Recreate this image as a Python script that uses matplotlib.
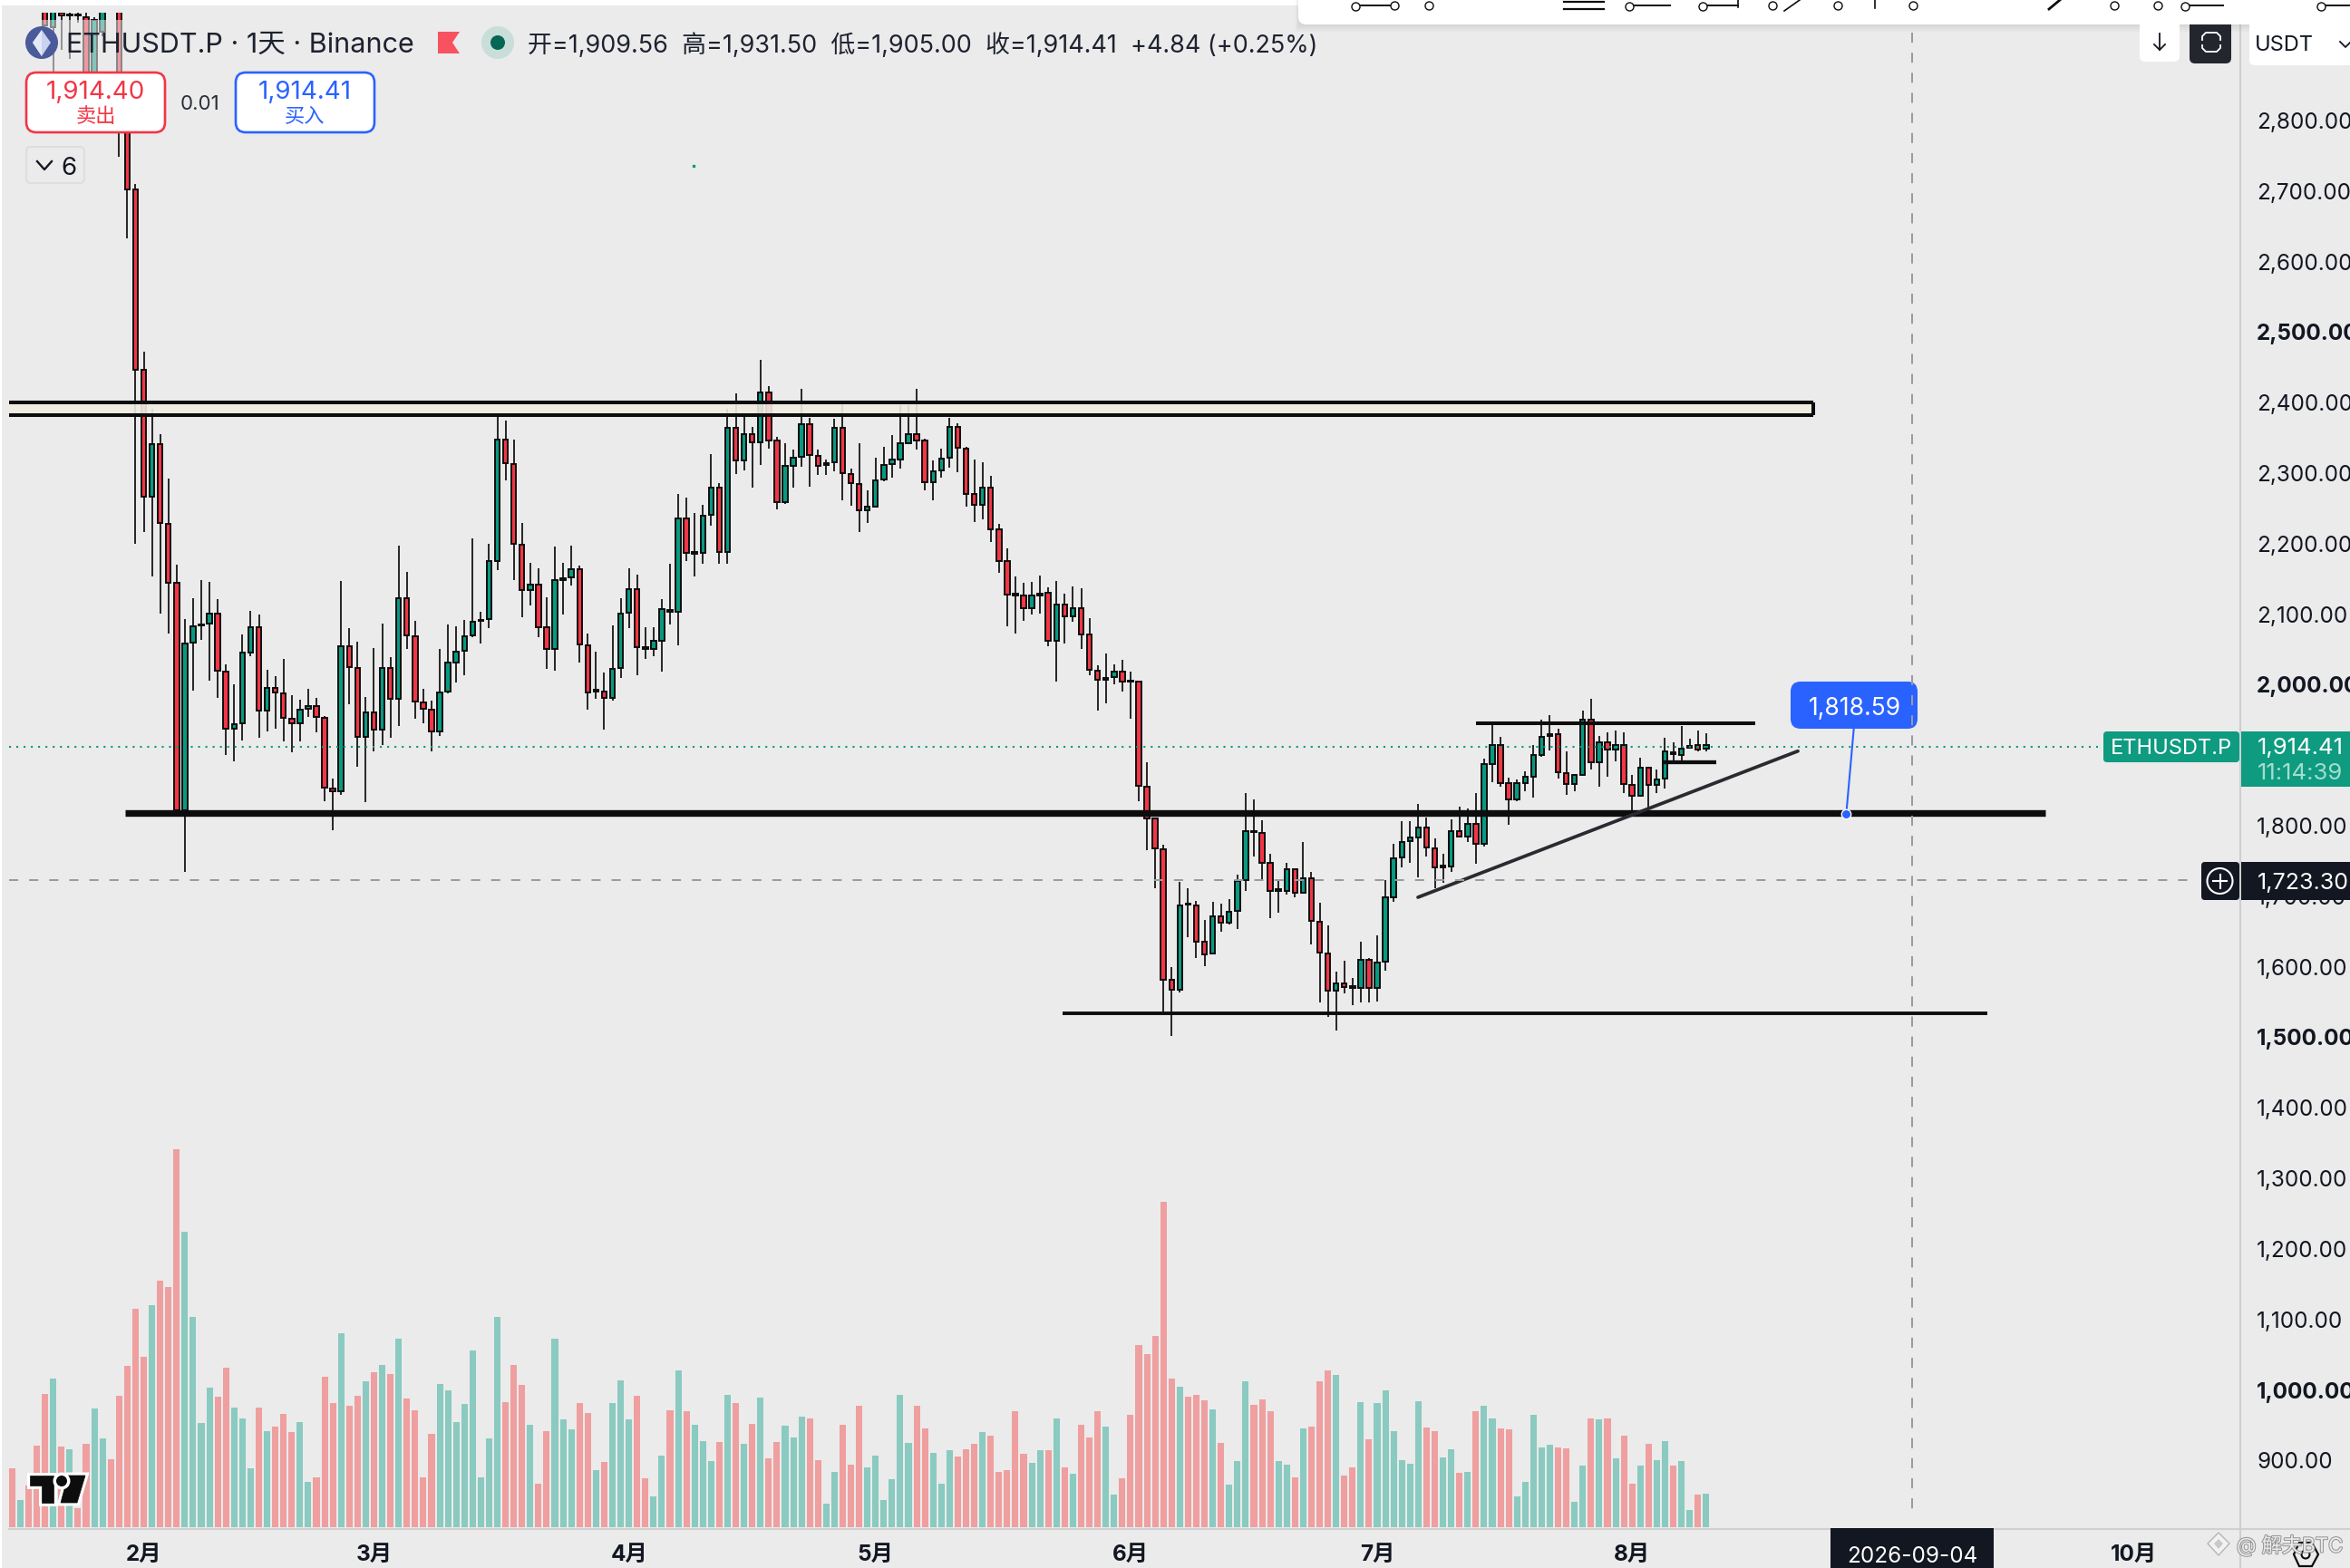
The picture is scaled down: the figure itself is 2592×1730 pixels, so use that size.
import matplotlib as mpl
import matplotlib.pyplot as plt
import matplotlib.patheffects as pe
from matplotlib.patches import Rectangle, FancyBboxPatch, Circle, Polygon

plt.rcParams['font.family'] = ['Inter', 'Noto Sans CJK SC', 'DejaVu Sans']

W, H = 2592, 1730
BG = '#ebebeb'
UP = '#089981'
DOWN = '#f23645'
INK = '#0d0d0d'
NAVY = '#131722'

# daily candles, one row of ten per line
opens = [3030, 2985, 3040, 3010, 2965, 2933, 2953, 2949, 2951, 2947,
         2840, 2926, 2972, 2965, 2783, 2702, 2447, 2267, 2341, 2228,
         2144, 1822, 2060, 2084, 2087, 2101, 2019, 1938, 1945, 2045,
         2082, 1963, 1995, 1988, 1952, 1946, 1966, 1970, 1953, 1853,
         1849, 2054, 2024, 1926, 1961, 1937, 2024, 1980, 2123, 2069,
         1975, 1965, 1934, 1991, 2032, 2048, 2070, 2090, 2093, 2175,
         2348, 2313, 2199, 2134, 2142, 2081, 2051, 2149, 2152, 2164,
         2056, 1991, 1991, 1981, 2024, 2102, 2136, 2053, 2051, 2062,
         2106, 2104, 2236, 2186, 2187, 2241, 2280, 2188, 2365, 2318,
         2356, 2344, 2414, 2346, 2259, 2310, 2323, 2370, 2325, 2312,
         2315, 2365, 2299, 2285, 2248, 2253, 2291, 2313, 2319, 2343,
         2356, 2346, 2287, 2304, 2322, 2366, 2335, 2270, 2255, 2279,
         2221, 2176, 2129, 2126, 2108, 2127, 2130, 2062, 2114, 2097,
         2109, 2071, 2020, 2007, 2011, 2019, 2006, 2004, 1856, 1810,
         1767, 1581, 1567, 1690, 1687, 1636, 1619, 1671, 1663, 1679,
         1723, 1793, 1790, 1747, 1708, 1708, 1738, 1705, 1725, 1664,
         1619, 1566, 1576, 1572, 1570, 1610, 1570, 1607, 1698, 1755,
         1778, 1783, 1797, 1768, 1741, 1742, 1793, 1785, 1803, 1774,
         1888, 1914, 1861, 1838, 1860, 1869, 1901, 1928, 1930, 1875,
         1859, 1872, 1951, 1890, 1919, 1908, 1915, 1858, 1842, 1882,
         1858, 1867, 1904, 1901, 1911, 1914, 1909.56]
highs = [3055, 3040, 3060, 3030, 2975, 2970, 2960, 2956, 2955, 2953,
         2947, 2965, 2980, 2975, 2790, 2710, 2472, 2392, 2355, 2292,
         2170, 2093, 2123, 2149, 2146, 2121, 2029, 2000, 2071, 2105,
         2100, 2021, 2012, 2036, 1985, 1979, 1994, 1981, 1956, 1867,
         2147, 2080, 2061, 1983, 2052, 2087, 2039, 2197, 2160, 2091,
         1994, 1977, 2051, 2086, 2083, 2092, 2208, 2103, 2200, 2381,
         2375, 2348, 2230, 2173, 2165, 2124, 2196, 2173, 2197, 2169,
         2073, 2047, 2017, 2084, 2123, 2165, 2156, 2081, 2081, 2121,
         2171, 2270, 2266, 2243, 2255, 2327, 2286, 2392, 2413, 2380,
         2366, 2461, 2424, 2351, 2343, 2334, 2420, 2379, 2334, 2320,
         2377, 2398, 2307, 2343, 2276, 2322, 2338, 2354, 2397, 2397,
         2420, 2349, 2318, 2335, 2379, 2371, 2337, 2319, 2315, 2296,
         2228, 2194, 2153, 2145, 2146, 2155, 2138, 2147, 2129, 2140,
         2137, 2094, 2027, 2044, 2029, 2035, 2019, 2005, 1890, 1812,
         1773, 1599, 1720, 1712, 1694, 1666, 1692, 1690, 1696, 1731,
         1846, 1837, 1808, 1760, 1722, 1747, 1739, 1777, 1735, 1691,
         1659, 1593, 1609, 1584, 1635, 1612, 1645, 1723, 1774, 1807,
         1807, 1831, 1812, 1782, 1760, 1809, 1827, 1825, 1846, 1895,
         1943, 1926, 1868, 1866, 1877, 1915, 1951, 1957, 1938, 1906,
         1874, 1964, 1980, 1927, 1932, 1935, 1933, 1872, 1896, 1884,
         1880, 1925, 1918, 1941, 1924, 1935, 1931.5]
lows = [2990, 2975, 2995, 2970, 2935, 2869, 2900, 2887, 2939, 2783,
        2830, 2920, 2958, 2749, 2633, 2200, 2216, 2154, 2101, 2072,
        1813, 1735, 1992, 2063, 2006, 1982, 1900, 1891, 1921, 2040,
        1925, 1934, 1938, 1920, 1904, 1920, 1954, 1932, 1835, 1794,
        1844, 1972, 1884, 1833, 1905, 1914, 1925, 1942, 2051, 1952,
        1945, 1905, 1927, 1988, 2003, 2013, 2068, 2059, 2080, 2162,
        2290, 2149, 2096, 2113, 2067, 2023, 2020, 2100, 2141, 2032,
        1965, 1980, 1936, 1977, 2010, 2080, 2014, 2037, 2041, 2019,
        2085, 2056, 2176, 2154, 2172, 2225, 2171, 2172, 2299, 2304,
        2280, 2312, 2335, 2249, 2256, 2279, 2309, 2281, 2297, 2297,
        2303, 2262, 2254, 2217, 2229, 2253, 2289, 2294, 2306, 2341,
        2333, 2276, 2261, 2294, 2308, 2301, 2253, 2231, 2235, 2202,
        2159, 2083, 2073, 2091, 2100, 2101, 2054, 2005, 2059, 2089,
        2051, 2013, 1964, 1974, 2000, 1991, 1952, 1835, 1766, 1712,
        1536, 1502, 1563, 1642, 1612, 1601, 1619, 1650, 1660, 1653,
        1707, 1756, 1723, 1669, 1677, 1702, 1699, 1705, 1632, 1550,
        1529, 1510, 1562, 1546, 1549, 1549, 1551, 1595, 1692, 1741,
        1747, 1727, 1756, 1712, 1719, 1735, 1785, 1777, 1746, 1771,
        1862, 1855, 1801, 1835, 1849, 1840, 1898, 1907, 1867, 1844,
        1849, 1872, 1880, 1855, 1869, 1892, 1846, 1818, 1842, 1818,
        1846, 1853, 1891, 1891, 1909, 1905, 1905]
closes = [3000, 3025, 3005, 2975, 2935, 2960, 2949, 2951, 2949, 2787,
          2943, 2958, 2965, 2783, 2702, 2447, 2267, 2341, 2229, 2144,
          1822, 2059, 2083, 2086, 2101, 2020, 1938, 1944, 2045, 2082,
          1964, 1995, 1989, 1953, 1946, 1965, 1970, 1954, 1854, 1849,
          2054, 2025, 1926, 1961, 1936, 2024, 1980, 2123, 2070, 1976,
          1966, 1934, 1989, 2032, 2047, 2069, 2089, 2092, 2175, 2348,
          2314, 2200, 2134, 2142, 2082, 2051, 2148, 2151, 2164, 2057,
          1989, 1993, 1981, 2023, 2101, 2136, 2053, 2051, 2062, 2107,
          2104, 2236, 2187, 2188, 2240, 2280, 2188, 2365, 2318, 2356,
          2344, 2414, 2346, 2259, 2310, 2322, 2370, 2326, 2311, 2314,
          2365, 2300, 2286, 2248, 2253, 2290, 2312, 2319, 2343, 2356,
          2346, 2287, 2303, 2321, 2366, 2336, 2270, 2255, 2279, 2221,
          2176, 2128, 2127, 2108, 2126, 2129, 2062, 2114, 2097, 2109,
          2071, 2021, 2007, 2009, 2019, 2004, 2004, 1857, 1810, 1768,
          1582, 1567, 1687, 1688, 1636, 1618, 1671, 1663, 1678, 1722,
          1793, 1791, 1747, 1708, 1710, 1738, 1705, 1725, 1665, 1620,
          1566, 1576, 1571, 1570, 1610, 1570, 1606, 1698, 1754, 1777,
          1783, 1797, 1769, 1741, 1743, 1793, 1785, 1803, 1774, 1888,
          1914, 1861, 1838, 1860, 1869, 1901, 1926, 1930, 1876, 1859,
          1872, 1951, 1890, 1919, 1908, 1915, 1859, 1842, 1882, 1858,
          1866, 1905, 1902, 1909, 1913, 1908, 1914.41]
# doji rows where the volume bar colour says which way they closed
volumes = [195, 90, 137, 270, 441, 492, 267, 258, 63, 276,
           393, 294, 225, 435, 534, 723, 564, 735, 816, 795,
           1251, 978, 696, 345, 462, 432, 528, 396, 360, 195,
           396, 318, 333, 375, 315, 348, 150, 165, 498, 411,
           642, 402, 435, 483, 513, 537, 507, 624, 426, 387,
           165, 309, 474, 453, 348, 408, 585, 165, 294, 696,
           414, 537, 471, 339, 144, 318, 624, 357, 324, 411,
           378, 189, 216, 411, 486, 357, 435, 162, 102, 237,
           387, 519, 384, 339, 285, 219, 282, 438, 411, 276,
           342, 429, 228, 282, 336, 297, 366, 360, 222, 78,
           183, 339, 207, 402, 198, 237, 90, 159, 438, 279,
           402, 327, 246, 144, 255, 234, 258, 276, 315, 303,
           183, 189, 384, 243, 213, 255, 255, 360, 198, 177,
           339, 297, 384, 333, 108, 162, 372, 603, 573, 633,
           1077, 492, 465, 432, 438, 420, 390, 279, 141, 219,
           483, 405, 423, 384, 219, 207, 165, 327, 333, 483,
           519, 504, 171, 198, 414, 291, 411, 453, 318, 222,
           210, 417, 330, 318, 231, 258, 180, 183, 384, 402,
           360, 327, 324, 102, 150, 372, 264, 273, 264, 261,
           84, 204, 360, 357, 360, 228, 303, 144, 204, 276,
           222, 285, 204, 219, 57, 108, 111]

month_pos = [16, 44, 75, 105, 136, 166, 197, 258]
month_labels = ['2月', '3月', '4月', '5月', '6月', '7月', '8月', '10月']
price_ticks = [2800, 2700, 2600, 2500, 2400, 2300, 2200, 2100, 2000, 1900,
               1800, 1700, 1600, 1500, 1400, 1300, 1200, 1100, 1000, 900]
bold_ticks = [2500, 2000, 1500, 1000]

LAST_PRICE = 1914.41
CROSS_PRICE = 1723.30
SUPPORT = 1818.59
LOW_LINE = 1534
TOP_LINE = 1945
SMALL_LINE = 1890
ZONE = (2382, 2400.5)

# pixel frame of the chart pane
LEFT, RIGHT, TOP, BOTTOM = 0, 2471, 14, 1687
BAR0_PX, BAR_PX = 13.4, 9.07
PRICE_PX = 0.778


def bar_of(px):
    return (px - BAR0_PX) / BAR_PX


fig = plt.figure(figsize=(W / 100, H / 100), dpi=100, facecolor=BG)
rect = [LEFT / W, (H - BOTTOM) / H, (RIGHT - LEFT) / W, (BOTTOM - TOP) / H]

# volume pane sits behind the candles
vol_ax = fig.add_axes(rect, zorder=1)
vol_ax.set_facecolor(BG)
vol_ax.set_xlim(bar_of(LEFT), bar_of(RIGHT))
vol_ax.set_ylim(-6, (1685 - TOP) * 3)
vol_ax.axis('off')

ax = fig.add_axes(rect, zorder=2)
ax.patch.set_alpha(0)
ax.set_xlim(bar_of(LEFT), bar_of(RIGHT))
ax.set_ylim(2000 - (BOTTOM - 755.5) / PRICE_PX, 2000 + (755.5 - TOP) / PRICE_PX)
for s in ax.spines.values():
    s.set_visible(False)

idx = list(range(len(opens)))
rising = [c >= o for o, c in zip(opens, closes)]
vol_ax.bar(idx, volumes, width=0.78,
           color=['#8acac0' if r else '#ef9f9f' for r in rising])

ax.vlines(idx, lows, highs, color=INK, lw=1.25, zorder=2)
ax.bar(idx, [abs(c - o) for o, c in zip(opens, closes)],
       bottom=[min(o, c) for o, c in zip(opens, closes)], width=0.6,
       color=[UP if r else DOWN for r in rising],
       edgecolor=INK, linewidth=1.4, zorder=3)

# drawings on top of the candles
z_l, z_r = bar_of(10), bar_of(2000)
ax.add_patch(Rectangle((z_l, ZONE[0]), z_r - z_l, ZONE[1] - ZONE[0],
                       facecolor='#f0ede2', alpha=0.9, edgecolor='none', zorder=4))
ax.hlines(list(ZONE), z_l, z_r, color=INK, lw=2.9, zorder=5)
ax.vlines(z_r, ZONE[0], ZONE[1], color=INK, lw=2.9, zorder=5)
ax.hlines(SUPPORT, bar_of(138), bar_of(2256), color=INK, lw=5.3, zorder=5)
ax.hlines(LOW_LINE, bar_of(1172), bar_of(2192), color=INK, lw=2.8, zorder=5)
ax.hlines(TOP_LINE, bar_of(1628), bar_of(1936), color=INK, lw=2.9, zorder=5)
ax.hlines(SMALL_LINE, bar_of(1834), bar_of(1893), color=INK, lw=3.1, zorder=5)
ax.plot([bar_of(1564), bar_of(1983)], [1698.6, 1905.9], color='#2a2a30', lw=2.7,
        solid_capstyle='round', zorder=5)

ax.hlines(LAST_PRICE - 2, bar_of(10), bar_of(2317), color=UP, lw=1.5,
          linestyle=(0, (1, 2.85)), zorder=4)
ax.hlines(CROSS_PRICE, bar_of(10), bar_of(2421), color='#9a9aa2', lw=1.45,
          linestyle=(0, (5, 6)), zorder=6)

ax.set_xticks(month_pos)
ax.set_xticklabels(month_labels, fontsize=17.5, fontweight='bold', color='#131722')
ax.yaxis.tick_right()
ax.set_yticks(price_ticks)
ax.set_yticklabels([f'{p:,.2f}' for p in price_ticks], fontsize=17.5, color='#131722')
for lab, p in zip(ax.get_yticklabels(), price_ticks):
    if p in bold_ticks:
        lab.set_fontweight('bold')
ax.tick_params(axis='both', length=0)
ax.tick_params(axis='x', pad=12.5)
ax.tick_params(axis='y', pad=13)

# page furniture in pixel coordinates
ov = fig.add_axes([0, 0, 1, 1], zorder=10)
ov.set_xlim(0, W)
ov.set_ylim(H, 0)
ov.axis('off')
ov.patch.set_alpha(0)


def box(x0, y0, x1, y1, fc, ec='none', lw=0, r=0, z=3):
    if r:
        ov.add_patch(FancyBboxPatch((x0 + r, y0 + r), x1 - x0 - 2 * r, y1 - y0 - 2 * r,
                                    boxstyle=f'round,pad={r},rounding_size={r}',
                                    fc=fc, ec=ec, lw=lw, zorder=z))
    else:
        ov.add_patch(Rectangle((x0, y0), x1 - x0, y1 - y0, fc=fc, ec=ec, lw=lw, zorder=z))


def label(x, y, s, size, color='#1e2230', ha='left', weight='normal', z=6, **kw):
    return ov.text(x, y, s, fontsize=size, color=color, ha=ha, va='center_baseline',
                   fontweight=weight, zorder=z, **kw)


# edges and axis rules
box(0, 0, W, 6, 'white', z=1)
box(0, 0, 2, H, 'white', z=1)
ov.plot([10, W], [1687, 1687], color='#d0d0d0', lw=1.5, zorder=2)
ov.plot([RIGHT, RIGHT], [27, H], color='#cfcfcf', lw=1.5, zorder=2)

# translucent legend strip over the first candles
box(29, 22, 460, 79, BG, z=2)
ov.patches[-1].set_alpha(0.55)

# title row
ov.add_patch(Circle((46, 47), 18, fc='#4a5a9a', zorder=4))
ov.add_patch(Polygon([(46, 33), (56, 47), (46, 62), (36, 47)], fc='#c9d3ee', zorder=5))
ov.add_patch(Polygon([(46, 33), (46, 62), (36, 47)], fc='#e4e9f7', zorder=5))
label(73, 47, 'ETHUSDT.P · 1天 · Binance', 22)
ov.add_patch(Polygon([(483, 35), (507, 35), (499, 47), (507, 59), (483, 59)], fc='#f7525f', zorder=5))
ov.add_patch(Circle((549, 47), 18, fc='#c9ddd9', zorder=4))
ov.add_patch(Circle((549, 47), 8, fc='#056656', zorder=5))
label(582, 47, '开=1,909.56  高=1,931.50  低=1,905.00  收=1,914.41  +4.84 (+0.25%)', 19.4)

# sell / buy buttons
box(29, 80, 182, 146, 'white', ec=DOWN, lw=1.9, r=11)
label(105.5, 99, '1,914.40', 20, color=DOWN, ha='center')
label(105.5, 127, '卖出', 16, color=DOWN, ha='center')
label(220, 113, '0.01', 16, color='#2a2e39', ha='center')
box(260, 80, 413, 146, 'white', ec='#2962ff', lw=1.9, r=11)
label(336.5, 99, '1,914.41', 20, color='#2962ff', ha='center')
label(336.5, 127, '买入', 16, color='#2962ff', ha='center')

# collapsed indicators
box(29, 162, 93, 202, BG, ec='#dedede', lw=1.5, r=5)
ov.plot([41, 49, 57], [178, 187, 178], color='#131722', lw=1.7, zorder=6)
label(76, 183, '6', 20, color='#131722', ha='center')
ov.plot([765], [183], 's', ms=1.8, color=UP, zorder=6)

# toolbar clipped by the top of the frame
for k in range(4):
    box(1432 - k, 0, W, 29 + 2 * k, '#8a8a8a', r=0, z=3)
    ov.patches[-1].set_alpha(0.05)
box(1432, -20, W + 20, 27, 'white', r=9, z=4)
for a, b in [(1495, 1538), (1797, 1842), (1878, 1917), (2410, 2452), (2560, 2592)]:
    ov.plot([a, b], [6, 6], color=INK, lw=1.4, zorder=5)
    ov.plot([a], [7], 'o', ms=6.5, mfc='white', mec=INK, mew=1, zorder=6)
for c in [1538, 1576, 1955, 2027, 2110, 2332, 2380]:
    ov.plot([c], [6], 'o', ms=6.5, mfc='white', mec=INK, mew=1, zorder=6)
for y in [1.5, 10]:
    ov.plot([1725, 1769], [y, y], color=INK, lw=1.6, zorder=5)
ov.plot([1917, 1917], [0, 8], color=INK, lw=1.2, zorder=5)
ov.plot([1968, 1985], [12, 0], color=INK, lw=1.2, zorder=5)
ov.plot([2068, 2068], [0, 9], color=INK, lw=1.2, zorder=5)
ov.plot([2260, 2272], [10, 0], color=INK, lw=2, zorder=5)

# top right buttons
box(2360, 20, 2404, 68, 'white', r=6, z=3)
ov.plot([2382, 2382], [37, 55], color='#131722', lw=1.3, zorder=6)
ov.plot([2376, 2382, 2388], [49, 55, 49], color='#131722', lw=1.3, zorder=6)
box(2415, 20, 2461, 70, '#23262f', r=6, z=3)
ov.plot([2429, 2429, 2433, 2445, 2449, 2449], [44, 40, 36, 36, 40, 44], color='white', lw=1.3, zorder=6)
ov.plot([2429, 2429, 2433, 2445, 2449, 2449], [50, 53, 57, 57, 53, 50], color='white', lw=1.3, zorder=6)
box(2481, 20, W + 10, 72, 'white', r=6, z=3)
label(2487, 48, 'USDT', 17, color='#131722')
ov.plot([2581, 2587, 2593], [46, 52, 46], color='#131722', lw=1.3, zorder=6)

# last price tags
box(2320, 807, 2470, 841, '#0e9b80', r=4)
label(2395, 823, 'ETHUSDT.P', 17, color='white', ha='center')
box(2472, 807, W, 868, '#0e9b80')
label(2490, 823, f'{LAST_PRICE:,.2f}', 18.5, color='white')
label(2490, 851, '11:14:39', 18.5, color='#a6dccf')

# crosshair tags
box(2428, 951, 2470, 993, NAVY, r=4)
box(2472, 951, W, 993, NAVY)
label(2490, 972, f'{CROSS_PRICE:,.2f}', 18, color='white')
ov.add_patch(Circle((2448.5, 972), 14, fc=NAVY, ec='white', lw=1.5, zorder=6))
ov.plot([2441, 2456], [972, 972], color='white', lw=1.5, zorder=7)
ov.plot([2448.5, 2448.5], [964.5, 979.5], color='white', lw=1.5, zorder=7)

# price note
ov.plot([2044.7, 2036.4], [804, 897.7], color='#2962ff', lw=1.5, zorder=4)
ov.plot([2036.4], [897.7], 'o', ms=7.5, mfc='#2962ff', mec='white', mew=1, zorder=5)
box(1975, 752, 2115, 804, '#2962ff', r=11)
label(2045.5, 779, f'{SUPPORT:,.2f}', 19, color='white', ha='center')

# vertical crosshair runs over everything in the pane
ov.plot([2108.7, 2108.7], [36, 1675], color='#9a9aa2', lw=1.45,
        linestyle=(0, (5.5, 5.5)), zorder=5)

# date tag
box(2019, 1686, 2199, H + 5, NAVY)
label(2109, 1715, '2026-09-04', 17.5, color='white', ha='center')

# tradingview mark
halo = [pe.withStroke(linewidth=5, foreground='white')]
for pts in ([(33, 1628), (59, 1628), (59, 1658), (46, 1658), (46, 1639), (33, 1639)],
            [(75, 1628), (94, 1628), (85, 1658), (67, 1658)]):
    ov.add_patch(Polygon(pts, fc=INK, ec=INK, lw=0.5, zorder=5, path_effects=halo))
ov.add_patch(Circle((68, 1634), 6, fc=INK, zorder=6, path_effects=halo))

# settings hexagon and watermark
ov.add_patch(Polygon([(2530, 1715), (2536, 1702), (2550, 1702), (2557, 1715), (2550, 1728), (2536, 1728)],
                     fc='none', ec=INK, lw=1.6, zorder=5))
ov.add_patch(Circle((2543, 1715), 4.5, fc='none', ec=INK, lw=1.5, zorder=5))
soft = [pe.withStroke(linewidth=1.5, foreground='#8d8d8d')]
ov.add_patch(Polygon([(2447, 1691), (2459, 1703), (2447, 1716), (2435, 1703)],
                     fc='#f2f2f2', ec='#b5b5b5', lw=1, zorder=7))
ov.add_patch(Polygon([(2447, 1698), (2452, 1703), (2447, 1709), (2442, 1703)],
                     fc='#c9c9c9', ec='none', zorder=8))
label(2467, 1703, '@ 解夫BTC', 16, color='#f4f4f4', z=8, path_effects=soft, alpha=0.9)

fig.savefig('out.png', dpi=100, facecolor=fig.get_facecolor())
